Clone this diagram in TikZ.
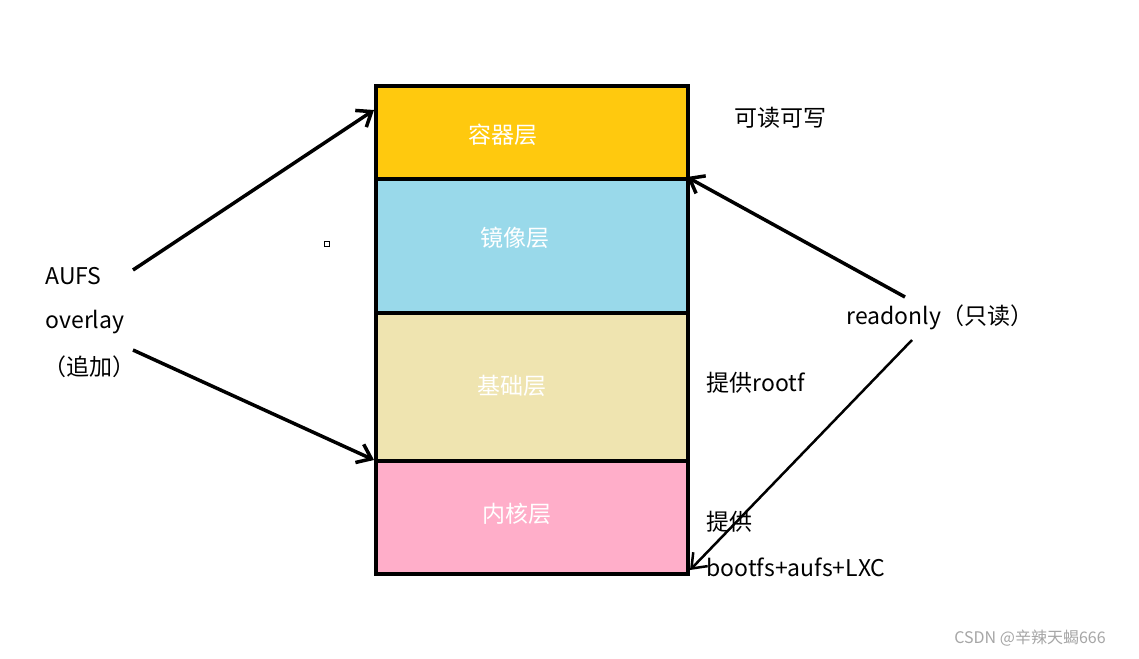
\documentclass[tikz,border=0pt]{standalone}
\usepackage{fontspec}
\setmainfont{Noto Sans CJK SC}
\usetikzlibrary{arrows.meta}
\definecolor{cy}{HTML}{FFC90E}
\definecolor{cb}{HTML}{99D9EA}
\definecolor{cg}{HTML}{EFE4B0}
\definecolor{cp}{HTML}{FFAEC9}
\tikzset{layer/.style={draw=black,line width=4pt,minimum width=312pt,inner sep=0pt,anchor=north west},
lt/.style={text=white,font=\fontsize{23}{26}\selectfont},
bt/.style={text=black,font=\fontsize{23}{26}\selectfont},
arr/.style={line width=3.5pt,-{Straight Barb[length=13pt,width=20pt]}}}
\begin{document}
\begin{tikzpicture}[x=1pt,y=-1pt]
\useasboundingbox[fill=white] (0,0) rectangle (1139,658);
\node[layer,fill=cy,minimum height=93pt] (c) at (374,84) {};
\node[layer,fill=cb,minimum height=134pt] (i) at (374,177) {};
\node[layer,fill=cg,minimum height=148pt] (b) at (374,311) {};
\node[layer,fill=cp,minimum height=113pt] (k) at (374,459) {};
\node[lt] (ct) at (503,135) {容器层};
\node[lt] (it) at (515,238) {镜像层};
\node[lt] (bt) at (512,386) {基础层};
\node[lt] (kt) at (517,514) {内核层};
\node[bt] (rw) at (780,118) {可读可写};
\node[bt,anchor=west] (r1) at (703,383) {提供rootf};
\node[bt,anchor=west] (r2) at (703,522) {提供};
\node[bt,anchor=west] (r3) at (703,567) {bootfs+aufs+LXC};
\node[bt] (ro) at (940,317) {readonly（只读）};
\node[bt,anchor=west] (a1) at (42,276) {AUFS};
\node[bt,anchor=west] (a2) at (42,322) {overlay};
\node[bt,anchor=west] (a3) at (40,367) {（追加）};
\node[draw=black,line width=0.8pt,minimum size=5pt,inner sep=0pt] (sq) at (327,244) {};
\node[text=gray!70,font=\fontsize{16}{18}\selectfont] (wm) at (1030,638) {CSDN @辛辣天蝎666};
\coordinate (s1) at (133,270); \coordinate (e1) at (374,110);
\coordinate (s2) at (133,350); \coordinate (e2) at (374,460);
\coordinate (s3) at (905,297); \coordinate (e3) at (687,177);
\coordinate (s4) at (912,340); \coordinate (e4) at (690,570);
\draw[arr] (s1) -- (e1);
\draw[arr] (s2) -- (e2);
\draw[arr] (s3) -- (e3);
\draw[arr,line width=2.5pt] (s4) -- (e4);
\end{tikzpicture}
\end{document}
